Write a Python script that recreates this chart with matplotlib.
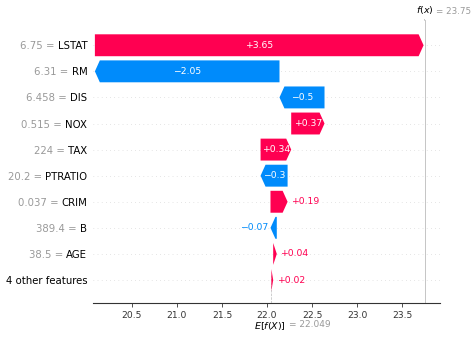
import matplotlib.pyplot as plt
import matplotlib.transforms as mtransforms

# feature rows, top to bottom
features = ["LSTAT", "RM", "DIS", "NOX", "TAX", "PTRATIO", "CRIM", "B", "AGE"]
feature_values = ["6.75", "6.31", "6.458", "0.515", "224", "20.2", "0.037", "389.4", "38.5"]
shap_values = [3.65, -2.05, -0.5, 0.37, 0.34, -0.3, 0.19, -0.07, 0.04]
other_label = "4 other features"
other_value = 0.02
base_value = 22.049
fx = 23.75

red = "#ff0051"
blue = "#008bfb"


def fmt(v):
    s = ("%+0.02f" % v).rstrip("0").rstrip(".")
    return s.replace("-", "\u2212")


fig = plt.figure(figsize=(4.74, 3.37), dpi=100)
ax = fig.add_axes([0.196, 0.101, 0.732, 0.839])

# bottom row first (waterfall starts at the base value)
vals = [other_value] + shap_values[::-1]
names = [other_label] + features[::-1]
fvals = [None] + feature_values[::-1]
n = len(vals)

ax.set_xlim(20.067, 23.92)
ax.set_ylim(-0.88, n - 1 + 0.96)

for i in range(n):
    ax.axhline(i, color="#cccccc", lw=0.5, dashes=(1, 5), zorder=-1)

ax.axvline(fx, color="#bbbbbb", lw=0.6, zorder=-1)
ax.axvline(base_value, 0, 0.1, color="#bbbbbb", lw=0.5, linestyle="--", zorder=-1)

bar_h = 0.84
hl = 0.055
fs_bar = 6.7
fs_lab = 7.3
renderer = fig.canvas.get_renderer()
pos = base_value
for i, v in enumerate(vals):
    color = red if v > 0 else blue
    h = min(hl, abs(v))
    ax.arrow(pos, i, v, 0, width=bar_h, head_width=bar_h, head_length=h,
             length_includes_head=True, color=color, linewidth=0)
    txt = ax.text(pos + v / 2, i, fmt(v), ha="center", va="center",
                  color="white", fontsize=fs_bar)
    bb = txt.get_window_extent(renderer=renderer)
    x0 = ax.transData.transform((pos, i))[0]
    x1 = ax.transData.transform((pos + v, i))[0]
    if bb.width > abs(x1 - x0):
        txt.remove()
        if v > 0:
            ax.text(pos + v + 0.04, i, fmt(v), ha="left", va="center",
                    color=red, fontsize=fs_bar)
        else:
            ax.text(pos + v - 0.02, i, fmt(v), ha="right", va="center",
                    color=blue, fontsize=fs_bar)
    pos += v

# y labels: feature name in black, value in gray to its left
pad = 4
ax.set_yticks(range(n))
ax.set_yticklabels(names, fontsize=fs_lab)
ax.tick_params(axis="y", length=0, pad=pad)
fig.canvas.draw()
ytr = ax.get_yaxis_transform()
space = 0.318 * fs_lab
for i, t in enumerate(ax.yaxis.get_majorticklabels()):
    if fvals[i] is None:
        continue
    w = t.get_window_extent(renderer=renderer).width * 72 / fig.dpi
    ax.annotate(fvals[i] + " =", (0, i), xycoords=ytr, xytext=(-(pad + w + space), 0),
                textcoords="offset points", ha="right", va="center_baseline",
                fontsize=fs_lab, color="#999999")

ax.set_xticks([20.5, 21.0, 21.5, 22.0, 22.5, 23.0, 23.5])
ax.tick_params(axis="x", labelsize=6.6, length=3, width=0.6, colors="#333333", pad=2.5)
for s in ["left", "right", "top"]:
    ax.spines[s].set_visible(False)
ax.spines["bottom"].set_color("#333333")
ax.spines["bottom"].set_linewidth(0.8)

# expected value label below axis
tr = mtransforms.blended_transform_factory(ax.transData, ax.transAxes)
ax.annotate("$E[f(X)]$", (base_value, 0), xycoords=tr, xytext=(-1, -12.5),
            textcoords="offset points", ha="center", va="top", fontsize=6.8)
ax.annotate("= %0.03f" % base_value, (base_value, 0), xycoords=tr, xytext=(12.5, -12.5),
            textcoords="offset points", ha="left", va="top", fontsize=6.5, color="#999999")

# model output label above axis
ax.annotate("", (fx, 1), xycoords=tr, xytext=(fx, 1.012), textcoords=tr,
            arrowprops=dict(arrowstyle="-", color="#999999", lw=0.6))
ax.annotate("$f(x)$", (fx, 1), xycoords=tr, xytext=(0, 3),
            textcoords="offset points", ha="center", va="bottom", fontsize=6.8)
ax.annotate("= %0.02f" % fx, (fx, 1), xycoords=tr, xytext=(8.5, 3),
            textcoords="offset points", ha="left", va="bottom", fontsize=6.3, color="#999999")

fig.savefig("out.png", dpi=100)
